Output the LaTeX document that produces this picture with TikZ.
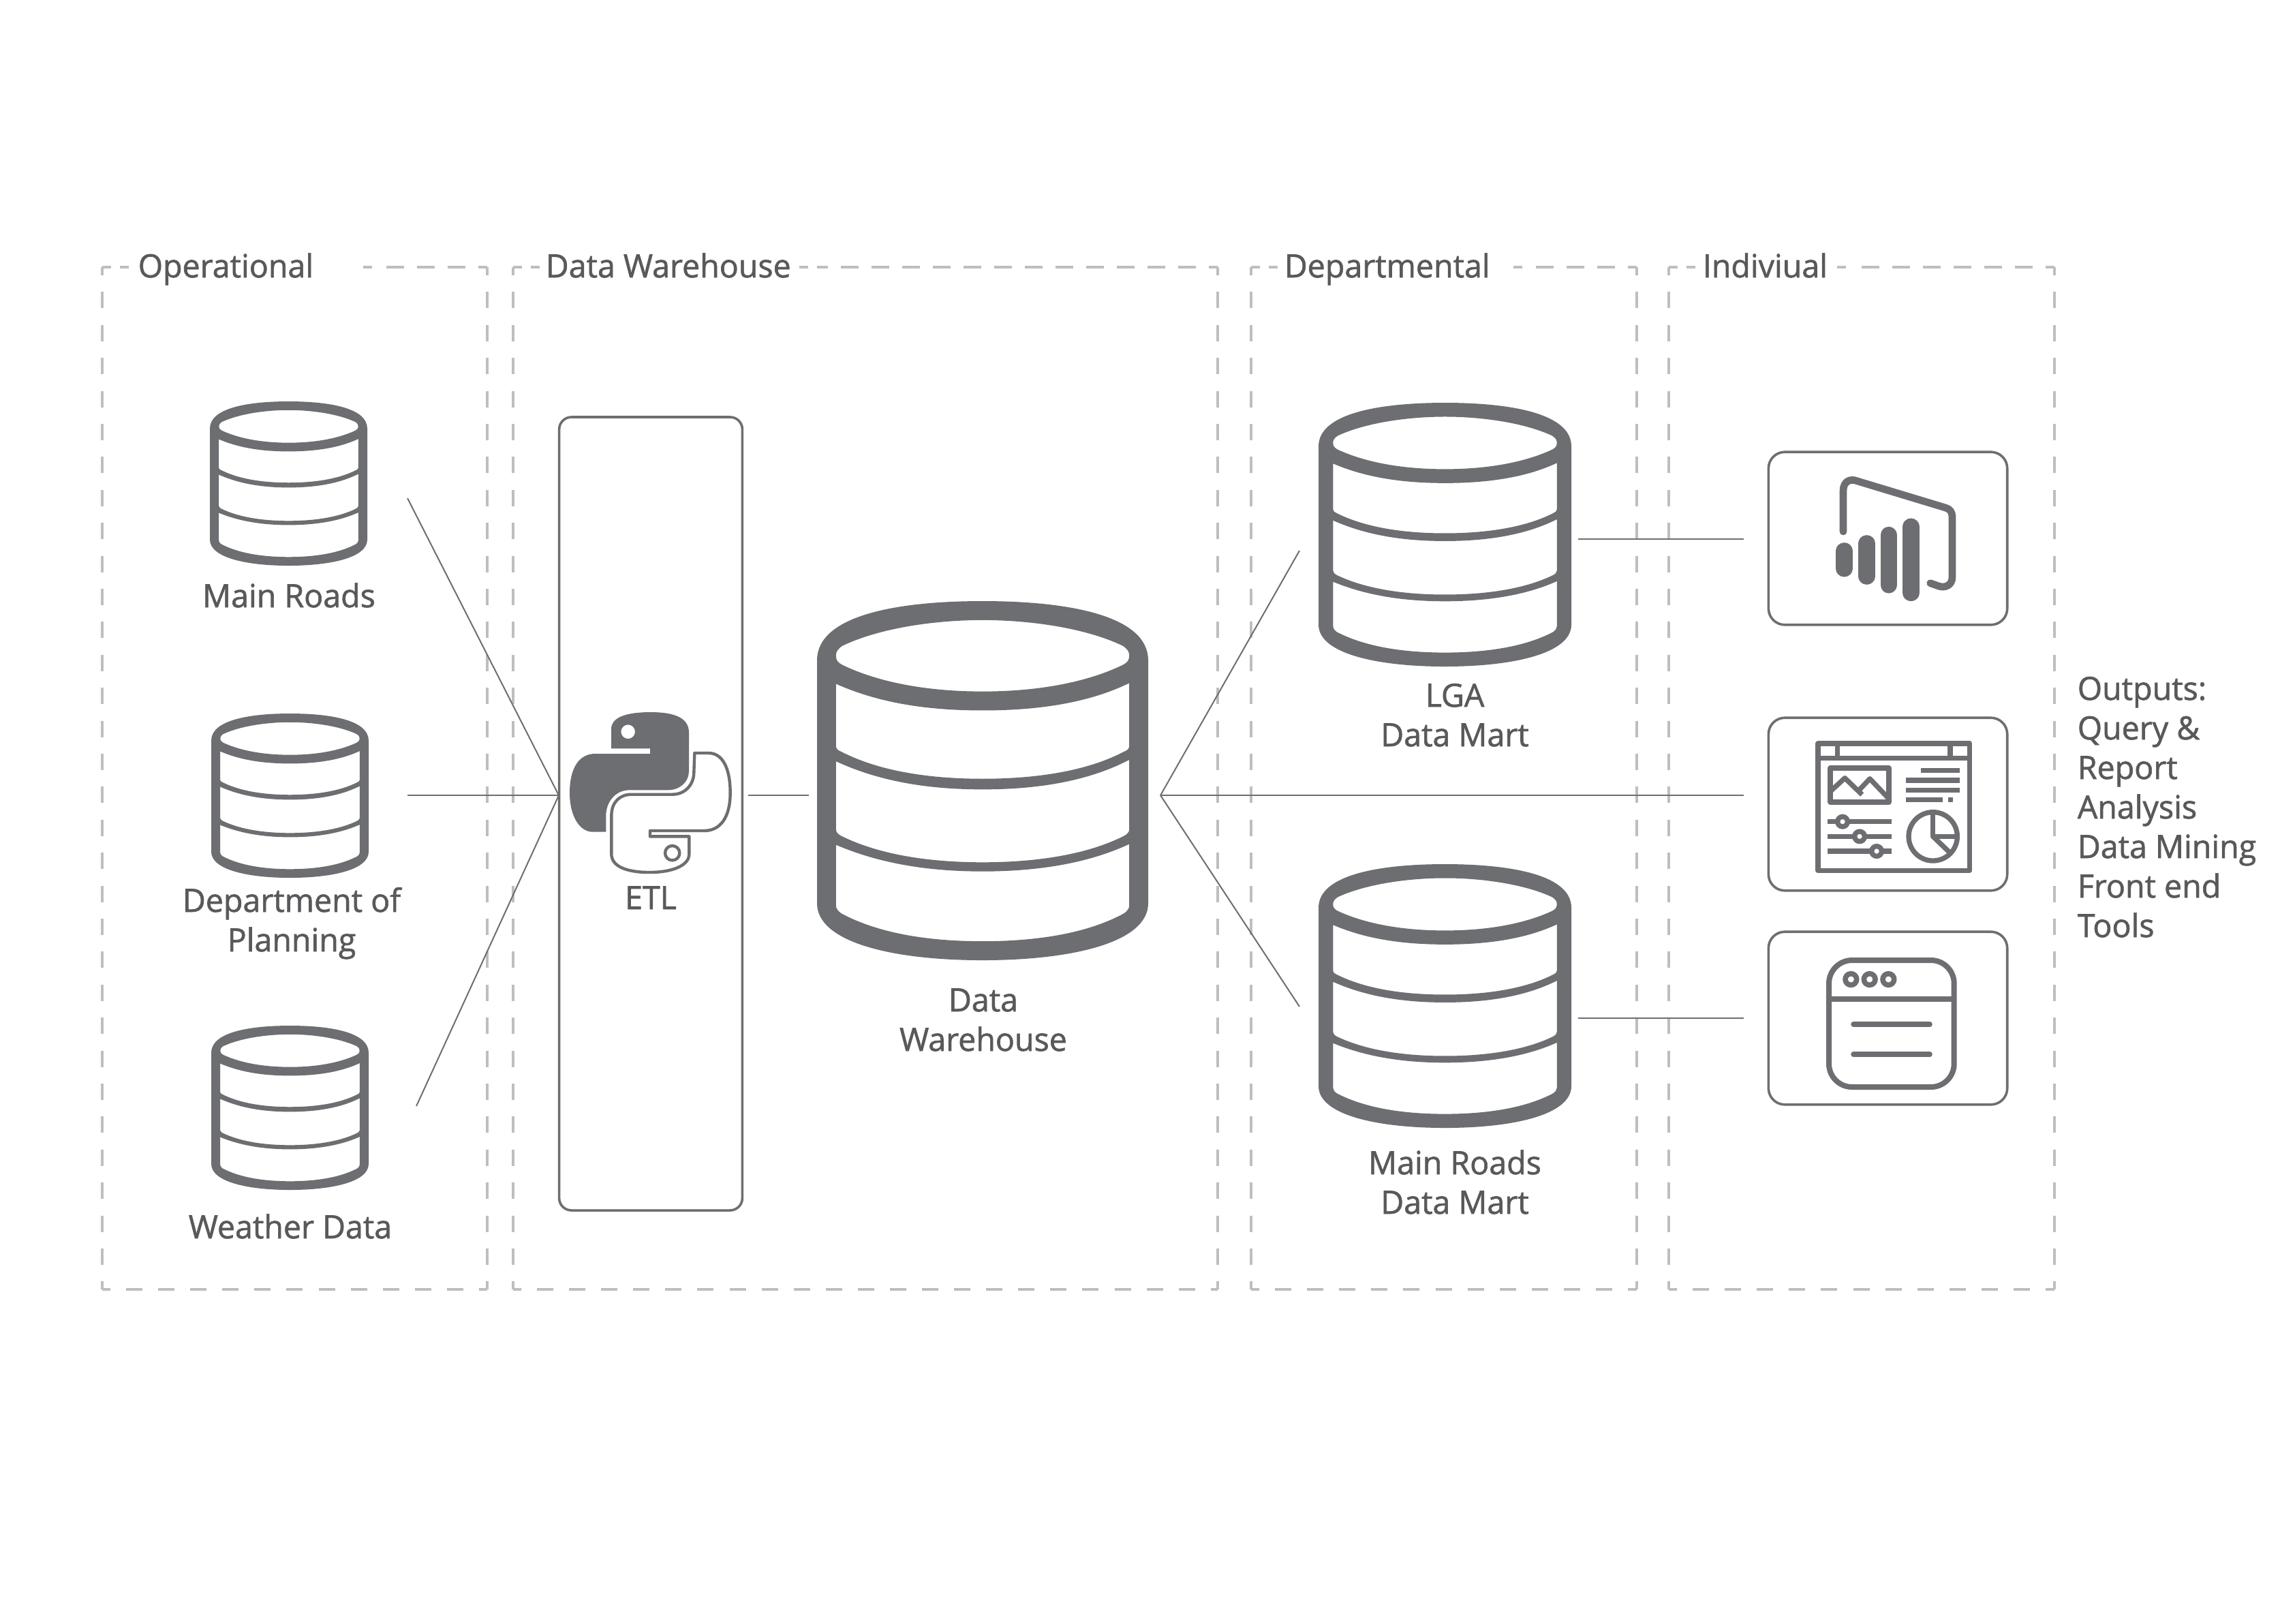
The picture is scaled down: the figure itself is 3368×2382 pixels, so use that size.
\documentclass[tikz,border=0pt]{standalone}
\usepackage{fontspec}
\setmainfont{Open Sans}[FakeStretch=0.99]
\definecolor{ink}{HTML}{6D6E71}
\definecolor{txt}{HTML}{58595B}
\definecolor{dashc}{HTML}{BCBEC0}
\newcommand\heft{\special{pdf:code 2 Tr 0.16 w}}
\tikzset{
  x=0.25pt,y=-0.25pt,
  lbl/.style={text=txt,font=\fontsize{11.75}{14.5}\selectfont,inner sep=0pt,align=center,anchor=base},
  lblw/.style={lbl,align=left,anchor=base west},
  dashv/.style={draw=dashc,line width=0.9pt,dash pattern=on 6pt off 6.1pt,dash phase=3pt},
  dashh/.style={draw=dashc,line width=1pt,dash pattern=on 6pt off 5.77pt,dash phase=3pt},
  dasht/.style={draw=dashc,line width=1pt,dash pattern=on 6.5pt off 4.75pt,dash phase=3.25pt},
  dashs/.style={draw=dashc,line width=1pt},
  conn/.style={draw=ink,line width=0.5pt},
  cbox/.style={draw=ink,line width=0.9pt,rounded corners=6pt,inner sep=0pt,minimum width=87.6pt,minimum height=63.4pt},
  slot/.style={inner sep=0pt,minimum width=0pt,minimum height=0pt,anchor=north west},
  heavy/.style={draw=ink,line width=1.83pt},
}
\newcommand\zone[3]{%
  \draw[dashv] (#1,392) -- (#1,1892);
  \draw[dashv] (#2,392) -- (#2,1892);
  \draw[dashh] (#1,1892) -- (#2,1892);
  \draw[dasht] (#2,392) -- (#3+26,392);
  \draw[dashs] (#3,392) -- ++(13,0);
  \draw[dashs] (#1,392) -- ++(13,0);
  \draw[dashs] (#1,392) ++(26,0) -- ++(13,0);
}
\newcommand\dbcyl[5]{%
  \node[slot,minimum width={#4*0.25pt},minimum height={#5*0.25pt}] (#1) at (#2,#3) {};
  \begin{scope}[shift={(#2,#3)},xscale=#4/472,yscale=#5/473]
    \fill[ink,even odd rule]
      (0,78) .. controls (0,20) and (110,0) .. (236,0) .. controls (362,0) and (472,20) .. (472,78)
      -- (472,398) .. controls (472,450) and (362,473) .. (236,473) .. controls (110,473) and (0,450) .. (0,398) -- cycle
      (27,72) .. controls (27,66) and (30,63) .. (36,59) .. controls (90,35) and (170,25) .. (236,25)
        .. controls (302,25) and (382,35) .. (436,59) .. controls (442,63) and (445,66) .. (445,72)
        .. controls (445,78) and (442,81) .. (436,84) .. controls (382,108) and (312,119) .. (236,119)
        .. controls (160,119) and (90,108) .. (36,84) .. controls (30,81) and (27,78) .. (27,72) -- cycle
      (27,109) .. controls (90,135) and (160,144) .. (236,144) .. controls (312,144) and (385,135) .. (445,108)
        -- (445,191) .. controls (445,194) and (442,197) .. (438,198) .. controls (385,224) and (312,234) .. (236,234)
        .. controls (160,234) and (88,224) .. (34,198) .. controls (30,197) and (27,194) .. (27,191) -- cycle
      (27,211) .. controls (90,238) and (160,248) .. (236,248) .. controls (312,248) and (385,238) .. (445,209)
        -- (445,301) .. controls (445,304) and (442,307) .. (438,309) .. controls (385,334) and (312,344) .. (236,344)
        .. controls (160,344) and (88,334) .. (34,309) .. controls (30,307) and (27,304) .. (27,301) -- cycle
      (27,321) .. controls (90,346) and (160,356) .. (236,356) .. controls (312,356) and (385,346) .. (445,320)
        -- (445,401) .. controls (445,405) and (442,408) .. (438,411) .. controls (385,438) and (312,448) .. (236,448)
        .. controls (160,448) and (88,438) .. (34,411) .. controls (30,408) and (27,405) .. (27,401) -- cycle;
  \end{scope}
}
\begin{document}
\begin{tikzpicture}
\useasboundingbox (0,0) rectangle (3368,2382);
\fill[white] (0,0) rectangle (3368,2382);

% zones
\zone{150}{715}{533}
\zone{753}{1787}{1173}
\zone{1836}{2402}{2221}
\zone{2449}{3015}{2696}
\node[lblw] (tOper) at (202,407) {\heft Operational};
\node[lblw] (tDW) at (800,407) {\heft Data Warehouse};
\node[lblw] (tDep) at (1884,407) {\heft Departmental};
\node[lblw] (tInd) at (2498,407) {\heft Indiviual};

% ETL box
\node[draw=ink,line width=0.9pt,rounded corners=4.5pt,inner sep=0pt,minimum width=67.2pt,minimum height=291pt] (etl) at (955,1194) {};

% cylinders
\dbcyl{dbMain}{308}{589}{231}{241}
\dbcyl{dbPlan}{310}{1047}{231}{241}
\dbcyl{dbWeather}{310}{1505}{231}{241}
\dbcyl{dbWare}{1199}{882}{486}{527}
\dbcyl{dbLGA}{1935}{591}{371}{387}
\dbcyl{dbRoads}{1935}{1268}{371}{387}

% labels
\node[lbl] (lMain) at (424,891) {\heft Main Roads};
\node[lbl] (lPlan) at (428,1396) {\heft Department of\\Planning};
\node[lbl] (lWeather) at (426,1817) {\heft Weather Data};
\node[lbl] (lETL) at (955,1334) {\heft ETL};
\node[lbl] (lWare) at (1443,1542) {\heft Data\\Warehouse};
\node[lbl] (lLGA) at (2135,1095) {\heft LGA\\Data Mart};
\node[lbl] (lRoads) at (2135,1781) {\heft Main Roads\\Data Mart};
\node[lblw] (lOut) at (3048,1375) {\heft Outputs:\\Query \&\\Report\\Analysis\\Data Mining\\Front end\\Tools};

% output boxes
\node[cbox] (bxBI) at (2770.5,790) {};
\node[cbox] (bxDash) at (2770.5,1180) {};
\node[cbox] (bxApp) at (2770.5,1494) {};

% connectors
\coordinate (inA) at (598,731);
\coordinate (inB) at (598,1167);
\coordinate (inC) at (611,1623);
\coordinate (apL) at (820,1167);
\coordinate (etlOut) at (1098,1167);
\coordinate (dwIn) at (1187,1167);
\coordinate (apR) at (1703,1167);
\coordinate (outA) at (1907,808);
\coordinate (outB) at (2559,1167);
\coordinate (outC) at (1907,1477);
\coordinate (lgaOut) at (2316,791);
\coordinate (biIn) at (2559,791);
\coordinate (roadOut) at (2316,1494);
\coordinate (appIn) at (2559,1494);
\draw[conn] (inA) -- (apL);
\draw[conn] (inB) -- (apL);
\draw[conn] (inC) -- (apL);
\draw[conn] (etlOut) -- (dwIn);
\draw[conn] (apR) -- (outA);
\draw[conn] (apR) -- (outB);
\draw[conn] (apR) -- (outC);
\draw[conn] (lgaOut) -- (biIn);
\draw[conn] (roadOut) -- (appIn);

% python logo
\begin{scope}[shift={(800,1000)},scale=1/3]
  \fill[ink,even odd rule]
    (291,295) -- (291,210) .. controls (291,160) and (350,135) .. (465,135)
    .. controls (580,135) and (633,165) .. (633,225) -- (633,395)
    .. controls (633,440) and (595,478) .. (540,478) -- (370,478)
    .. controls (310,478) and (268,530) .. (268,590) -- (268,662) -- (210,662)
    .. controls (150,662) and (108,590) .. (108,490)
    .. controls (108,380) and (150,318) .. (220,318) -- (462,318) -- (462,295) -- cycle
    (365,221) circle[radius=31];
  \draw[draw=ink,line width=1.1pt,line join=round]
    (658,315) -- (720,315) .. controls (780,315) and (815,380) .. (815,490)
    .. controls (815,600) and (770,657) .. (700,657) -- (462,657) -- (462,682) -- (634,682) -- (634,760)
    .. controls (634,810) and (560,840) .. (460,840)
    .. controls (350,840) and (292,810) .. (292,760) -- (292,590)
    .. controls (292,530) and (330,497) .. (380,497) -- (560,497)
    .. controls (620,497) and (655,450) .. (655,400) -- cycle;
  \draw[draw=ink,line width=1.1pt] (560,755) circle[radius=32];
\end{scope}

% power bi icon
\begin{scope}[shift={(2580,640)},scale=1/3]
  \draw[draw=ink,line width=2.67pt,line cap=round,line join=round]
    (375,420) -- (375,240) .. controls (375,200) and (405,185) .. (435,197) -- (825,315)
    .. controls (845,320) and (855,335) .. (855,355) -- (855,620)
    .. controls (855,655) and (825,670) .. (795,660) -- (758,647);
  \draw[draw=ink,line width=6.1pt,line cap=round] (379.5,505) -- (379.5,583);
  \draw[draw=ink,line width=6.1pt,line cap=round] (478.5,472) -- (478.5,617);
  \draw[draw=ink,line width=6.1pt,line cap=round] (575,435) -- (575,655);
  \draw[draw=ink,line width=6.1pt,line cap=round] (673,398) -- (673,690);
\end{scope}

% dashboard icon
\begin{scope}[shift={(2580,1040)},scale=1/3]
  \draw[heavy,line join=round] (264,153) rectangle (932,712);
  \draw[heavy] (264,217) -- (932,217) (349,153) -- (349,217) (846,153) -- (846,217);
  \draw[heavy,line join=round] (318,261) rectangle (576,411);
  \draw[heavy,line join=round] (320,362) -- (382,305) -- (458,378);
  \draw[heavy,line join=round] (445,358) -- (492,308) -- (572,392);
  \draw[heavy] (717,271) -- (889,271) (652,315) -- (889,315) (652,358) -- (889,358) (652,401) -- (813,401) (836,401) -- (857,401);
  \draw[heavy] (307,497) -- (587,497) (307,562) -- (587,562) (307,627) -- (587,627);
  \draw[heavy,fill=white] (372,497) circle[radius=22] (447,562) circle[radius=22] (522,627) circle[radius=22];
  \draw[heavy] (770,562) circle[radius=107];
  \draw[heavy,line join=round] (770,455) -- (770,562) -- (880,562);
  \draw[heavy] (770,562) -- (841,630);
\end{scope}

% app window icon
\begin{scope}[shift={(2580,1360)},scale=1/3]
  \draw[draw=ink,line width=2pt,rounded corners=8.5pt] (312,147) rectangle (863,705);
  \draw[draw=ink,line width=2pt] (312,319) -- (863,319);
  \draw[draw=ink,line width=1.9pt] (409,231) circle[radius=25] (491,231) circle[radius=25] (574,231) circle[radius=25];
  \draw[draw=ink,line width=1.9pt,line cap=round] (420,429) -- (756,429) (420,561) -- (756,561);
\end{scope}
\end{tikzpicture}
\end{document}
